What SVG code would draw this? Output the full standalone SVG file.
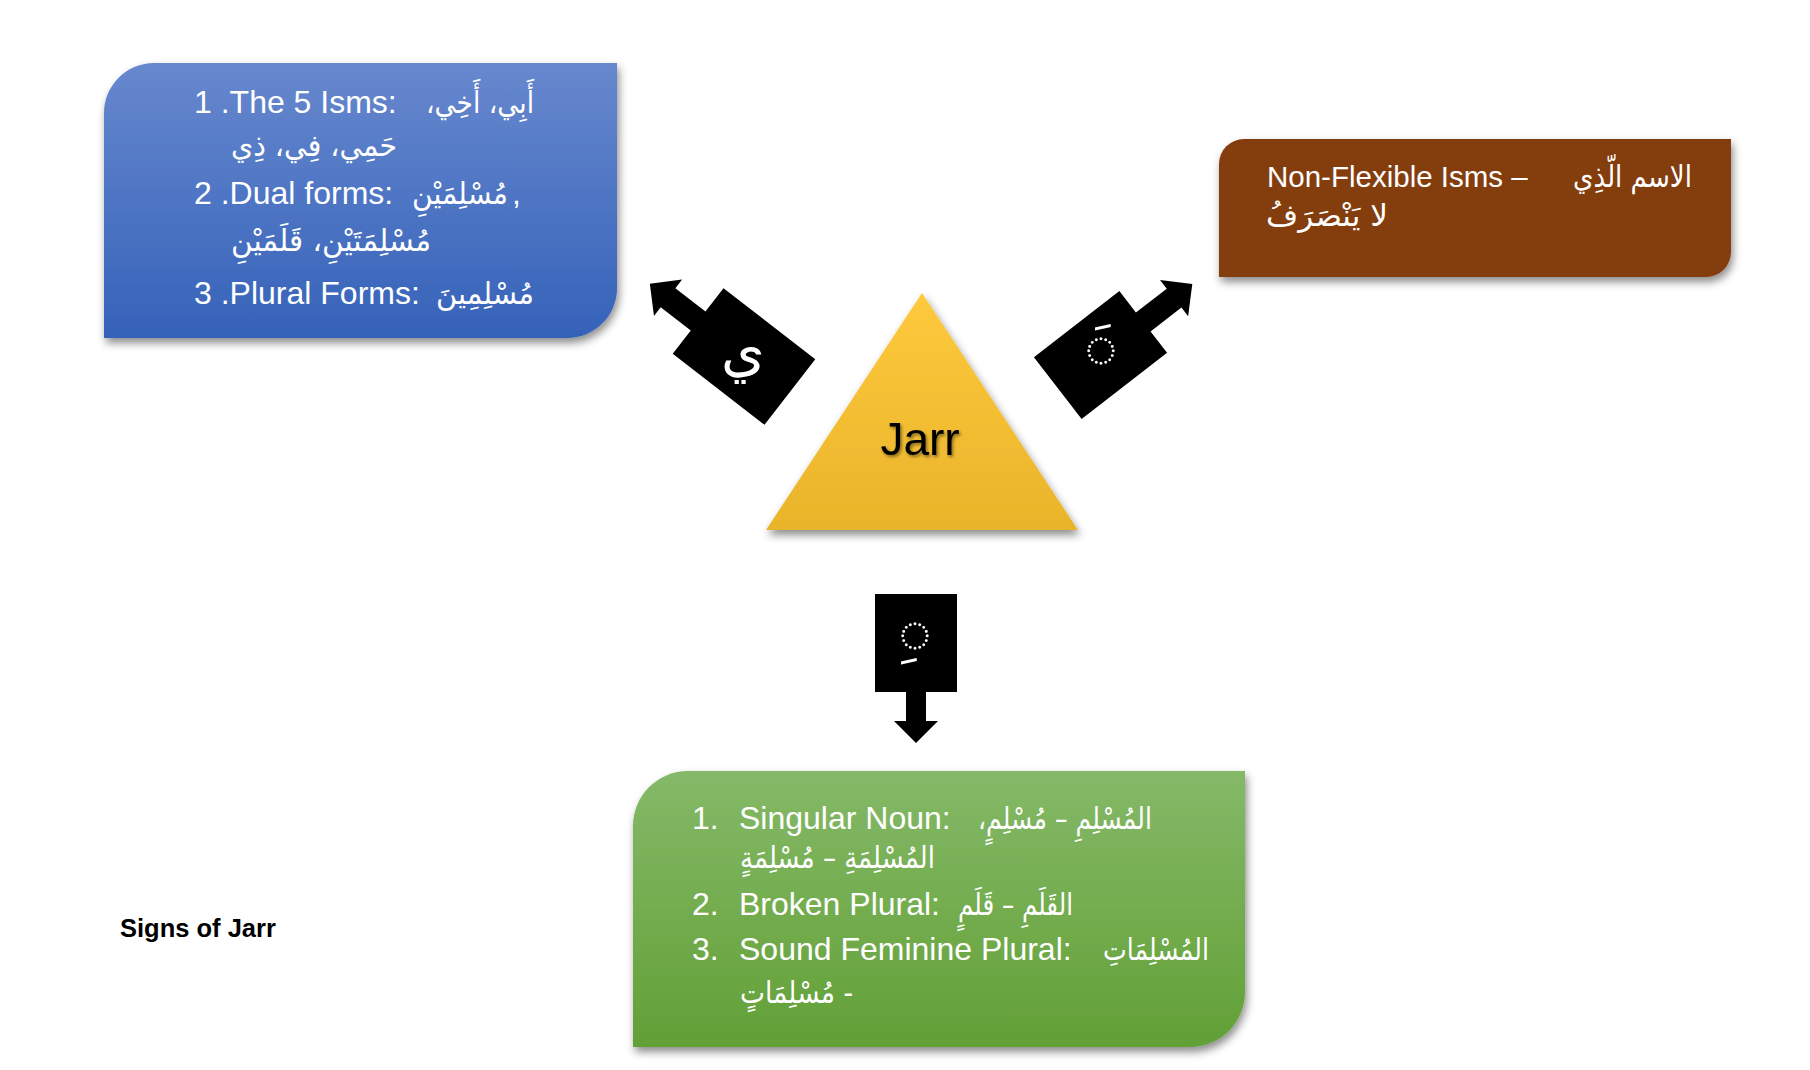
<svg xmlns="http://www.w3.org/2000/svg" width="1810" height="1070" viewBox="0 0 1810 1070">
<defs>
<linearGradient id="gBlue" x1="0" y1="0" x2="0" y2="1"><stop offset="0" stop-color="#6788ce"/><stop offset="1" stop-color="#3562b9"/></linearGradient>
<linearGradient id="gGreen" x1="0" y1="0" x2="0" y2="1"><stop offset="0" stop-color="#85b968"/><stop offset="1" stop-color="#62a036"/></linearGradient>
<linearGradient id="gYellow" x1="0" y1="0" x2="0" y2="1"><stop offset="0" stop-color="#ffc93d"/><stop offset="1" stop-color="#e9b42a"/></linearGradient>
<filter id="sh" x="-10%" y="-10%" width="125%" height="130%"><feDropShadow dx="2" dy="5" stdDeviation="4" flood-color="#000" flood-opacity="0.45"/></filter>
<filter id="tsh" x="-20%" y="-20%" width="150%" height="150%"><feDropShadow dx="1.5" dy="2" stdDeviation="1.5" flood-color="#000" flood-opacity="0.45"/></filter>
</defs>
<style>
.lat{font-family:"Liberation Sans",Arial,sans-serif;font-size:32px;fill:#fff}
.ar{font-family:"DejaVu Sans",sans-serif;font-size:30px;fill:#fff}
.mk{font-family:"DejaVu Sans",sans-serif;fill:#fff}
.dc{font-family:"Noto Sans","DejaVu Sans",sans-serif;font-size:55px;fill:#fff}
.callout{fill:#000}
</style>
<rect width="1810" height="1070" fill="#fff"/>

<g id="node-blue">
<path d="M104,113 A50,50 0 0 1 154,63 H617 V288 A50,50 0 0 1 567,338 H104 Z" fill="url(#gBlue)" filter="url(#sh)"/>
<text class="lat" x="194" y="113">1 .The 5 Isms:</text>
<text class="ar" x="426" y="113" textLength="108" lengthAdjust="spacingAndGlyphs">&#x200F;أَبِي، أَخِي،&#x200F;</text>
<text class="ar" x="231" y="156" textLength="166" lengthAdjust="spacingAndGlyphs">&#x200F;حَمِي، فِي، ذِي&#x200F;</text>
<text class="lat" x="194" y="204">2 .Dual forms:</text>
<text class="ar" x="412" y="204" textLength="96" lengthAdjust="spacingAndGlyphs">&#x200F;مُسْلِمَيْنِ&#x200F;</text>
<text class="lat" x="512" y="204">,</text>
<text class="ar" x="231" y="251" textLength="200" lengthAdjust="spacingAndGlyphs">&#x200F;مُسْلِمَتَيْنِ، قَلَمَيْنِ&#x200F;</text>
<text class="lat" x="194" y="304">3 .Plural Forms:</text>
<text class="ar" x="436" y="304" textLength="98" lengthAdjust="spacingAndGlyphs">&#x200F;مُسْلِمِينَ&#x200F;</text>
</g>

<g id="node-brown">
<path d="M1219,164 A25,25 0 0 1 1244,139 H1731 V252 A25,25 0 0 1 1706,277 H1219 Z" fill="#843c0e" filter="url(#sh)"/>
<text class="lat" x="1267" y="187" style="font-size:29.5px">Non-Flexible Isms –</text>
<text class="ar" x="1573" y="187" textLength="119" lengthAdjust="spacingAndGlyphs">&#x200F;الاسم الّذِي&#x200F;</text>
<text class="ar" x="1266" y="226" textLength="122" lengthAdjust="spacingAndGlyphs">&#x200F;لا يَنْصَرَفُ&#x200F;</text>
</g>

<g id="node-green">
<path d="M633,826 A55,55 0 0 1 688,771 H1245 V992 A55,55 0 0 1 1190,1047 H633 Z" fill="url(#gGreen)" filter="url(#sh)"/>
<text class="lat" x="692" y="829">1.</text>
<text class="lat" x="739" y="829">Singular Noun:</text>
<text class="ar" x="978" y="829" textLength="174" lengthAdjust="spacingAndGlyphs">&#x200F;المُسْلِمِ – مُسْلِمٍ،&#x200F;</text>
<text class="ar" x="740" y="868" textLength="195" lengthAdjust="spacingAndGlyphs">&#x200F;المُسْلِمَةِ – مُسْلِمَةٍ&#x200F;</text>
<text class="lat" x="692" y="915">2.</text>
<text class="lat" x="739" y="915">Broken Plural:</text>
<text class="ar" x="958" y="915" textLength="115" lengthAdjust="spacingAndGlyphs">&#x200F;القَلَمِ – قَلَمٍ&#x200F;</text>
<text class="lat" x="692" y="960">3.</text>
<text class="lat" x="739" y="960">Sound Feminine Plural:</text>
<text class="ar" x="1103" y="960" textLength="106" lengthAdjust="spacingAndGlyphs">&#x200F;المُسْلِمَاتِ&#x200F;</text>
<text class="ar" x="740" y="1003" textLength="113" lengthAdjust="spacingAndGlyphs">&#x200F;- مُسْلِمَاتٍ&#x200F;</text>
</g>

<g id="node-jarr">
<path d="M922,293 L1078,530 L766,530 Z" fill="url(#gYellow)" filter="url(#sh)"/>
<text x="920" y="455" text-anchor="middle" font-family="Liberation Sans,Arial,sans-serif" font-size="46" fill="#000" filter="url(#tsh)">Jarr</text>
</g>

<g id="connectors">
<g id="arrow-ya">
<path class="callout" transform="translate(744,356.5) rotate(37.7)" d="M58,-41.5 H-58 V-12 H-96 V-23 L-119,0 L-96,23 V12 H-58 V41.5 H58 Z"/>
<text class="mk" x="743" y="370" font-size="56" text-anchor="middle">ي</text>
</g>
<g id="arrow-fatha">
<path class="callout" transform="translate(1100.5,355) rotate(-37.7)" d="M-54,-39 H54 V-12 H93 V-23 L116,0 L93,23 V12 H54 V39 H-54 Z"/>
<text class="dc" x="1084.5" y="366.5" dx="0 -22.5" dy="0 -3.5">◌ﹶ</text>
</g>
<g id="arrow-kasra">
<path class="callout" d="M875,594 H957 V692 H926 V721 H938 L916,743 L894,721 H906 V692 H875 Z"/>
<text class="dc" x="898.5" y="651.5" dx="0 -30.5" dy="0 5.5">◌ﹺ</text>
</g>
</g>

<text x="120" y="937" font-family="Liberation Sans,Arial,sans-serif" font-size="25.5" font-weight="bold" fill="#000">Signs of Jarr</text>
</svg>
